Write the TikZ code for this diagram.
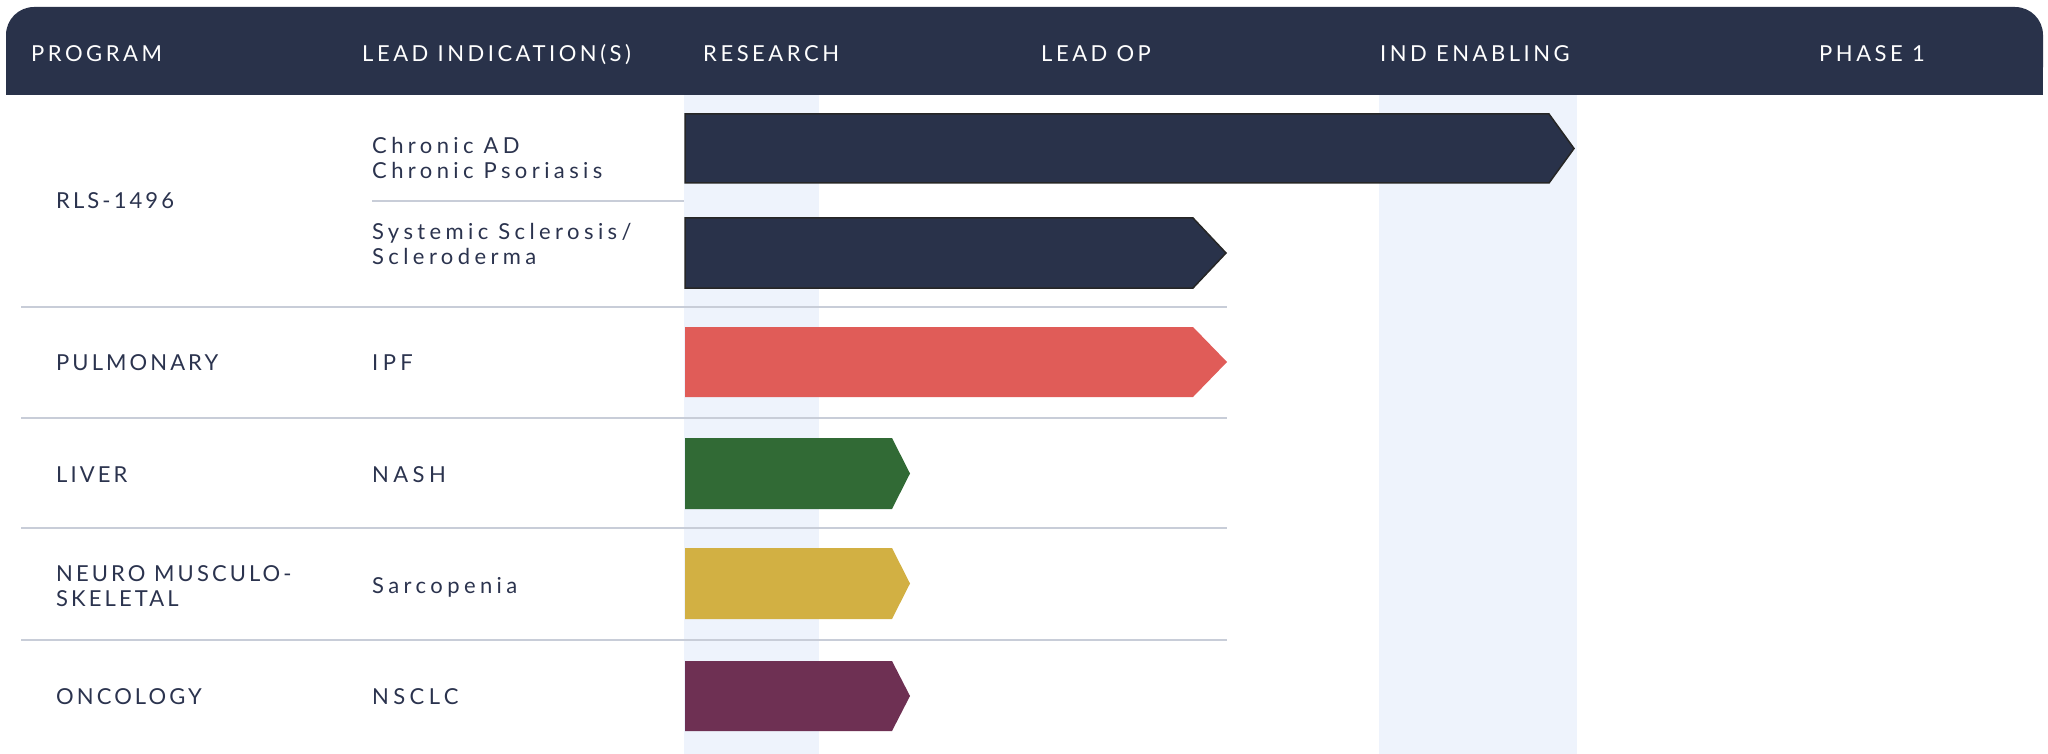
\documentclass[tikz,border=0pt]{standalone}
\usepackage{fontspec}
\setmainfont{Lato}[LetterSpace=14]
\newfontfamily\hdrfont{Lato}[LetterSpace=16]
\newfontfamily\indfont{Lato}[LetterSpace=20]
\usepackage{tikz}
\definecolor{midnight}{RGB}{41, 50, 74}
\definecolor{coral}{RGB}{224, 92, 88}
\definecolor{forest}{RGB}{49, 106, 53}
\definecolor{mustard}{RGB}{210, 176, 67}
\definecolor{plum}{RGB}{110, 48, 83}
\definecolor{iceblue}{RGB}{238, 243, 252}
\definecolor{rulegray}{RGB}{200, 205, 216}
\definecolor{ink}{RGB}{43, 51, 78}

\begin{document}
\begin{tikzpicture}[x=1pt, y=-1pt,
    lbl/.style={inner sep=0pt, text=ink, align=left, anchor=base west, font=\fontsize{22}{25}\selectfont},
    ind/.style={lbl, font=\fontsize{22}{25}\selectfont\indfont},
    hdr/.style={lbl, text=white, font=\fontsize{22}{25}\selectfont\hdrfont},
    rowrule/.style={draw=rulegray, line width=2pt}]
            \useasboundingbox (0,0) rectangle (2048,754);
            % header band
            \fill[midnight, rounded corners=28pt] (   6,  7) rectangle (2043, 95);
            \fill[midnight]                       (   6, 60) rectangle (2043, 95);
            % shaded stage columns
            \fill[iceblue] ( 684, 95) rectangle ( 819,754);
            \fill[iceblue] (1379, 95) rectangle (1577,754);
            \node[hdr] (hprog)  at (  31, 62) {PROGRAM};
            \node[hdr] (hind)   at ( 362, 62) {LEAD INDICATION(S)};
            \node[hdr] (hres)   at ( 703, 62) {RESEARCH};
            \node[hdr] (hlead)  at (1041, 62) {LEAD OP};
            \node[hdr] (hind2)  at (1380, 62) {IND ENABLING};
            \node[hdr] (hph1)   at (1819, 62) {PHASE 1};
            % row rules
            \draw[rowrule] ( 372,201) -- ( 684,201);
            \draw[rowrule] (  21,307) -- (1227,307);
            \draw[rowrule] (  21,418) -- (1227,418);
            \draw[rowrule] (  21,528) -- (1227,528);
            \draw[rowrule] (  21,640) -- (1227,640);
            % stage bars
            \filldraw[draw=black!85, fill=midnight, line width=1.5pt] ( 685,114) -- (1549,114) -- (1574,148.5) -- (1549,183) -- ( 685,183) -- cycle;
            \filldraw[draw=black!85, fill=midnight, line width=1.5pt] ( 685,218) -- (1193,218) -- (1226,253.0) -- (1193,288) -- ( 685,288) -- cycle;
            \fill[coral]   ( 685,327) -- (1193,327) -- (1227,362.0) -- (1193,397) -- ( 685,397) -- cycle;
            \fill[forest]  ( 685,438) -- ( 892,438) -- ( 910,473.5) -- ( 892,509) -- ( 685,509) -- cycle;
            \fill[mustard] ( 685,548) -- ( 892,548) -- ( 910,583.5) -- ( 892,619) -- ( 685,619) -- cycle;
            \fill[plum]    ( 685,661) -- ( 892,661) -- ( 910,696.0) -- ( 892,731) -- ( 685,731) -- cycle;
            % programs and indications
            \node[lbl] (prog1) at (  56,209) {RLS-1496};
            \node[ind] (ind1a) at ( 372,179) {Chronic AD\\Chronic Psoriasis};
            \node[ind] (ind1b) at ( 372,265) {Systemic Sclerosis/\\Scleroderma};
            \node[lbl] (prog2) at (  56,370) {PULMONARY};
            \node[ind] (ind2)  at ( 372,370) {IPF};
            \node[lbl] (prog3) at (  56,482) {LIVER};
            \node[ind] (ind3)  at ( 372,482) {NASH};
            \node[lbl] (prog4) at (  56,606) {NEURO MUSCULO-\\SKELETAL};
            \node[ind] (ind4)  at ( 372,593) {Sarcopenia};
            \node[lbl] (prog5) at (  56,704) {ONCOLOGY};
            \node[ind] (ind5)  at ( 372,704) {NSCLC};
\end{tikzpicture}
\end{document}
